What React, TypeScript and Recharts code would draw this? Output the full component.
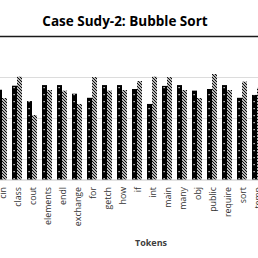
import React from 'react';
import { BarChart, Bar, XAxis, YAxis, CartesianGrid, ReferenceLine } from 'recharts';

// tokens along the x axis (the original chart is cropped on both sides)
const tokens = [
  'cin', 'class', 'cout', 'elements', 'endl', 'exchange', 'for', 'getch', 'how',
  'if', 'int', 'main', 'many', 'obj', 'public', 'require', 'sort', 'temp',
];

// solid (dotted black) series
const seriesDots = [
  44, 46, 38.5, 46.3, 46.3, 42.1, 40.1, 46.3, 46.3,
  44.4, 37.1, 45.9, 46.3, 43.6, 44.4, 46.3, 40.1, 41.5,
];

// hatched series
const seriesHatch = [
  40, 50.4, 31.7, 43.9, 43.6, 37.1, 50.2, 43.6, 43.9,
  48.3, 50.4, 50.2, 43.9, 40, 51.7, 43.9, 48, 45,
];

const yTicks = [0, 10, 20, 30, 40, 50, 60, 70];

const font = '"Open Sans", sans-serif';

const RotatedTick = (props: any) => {
  const { x, y, payload } = props;
  return (
    <text
      transform={`translate(${x + 1.5},${y + 3}) rotate(-90)`}
      textAnchor="end"
      dy="0.35em"
      fontSize={8.8}
      fontFamily={font}
      fill="#333"
    >
      {payload.value}
    </text>
  );
};

const App: React.FC = () => {
  const data = tokens.map((t, i) => ({
    token: t,
    dots: seriesDots[i],
    hatch: seriesHatch[i],
  }));

  return (
    <div style={{ position: 'fixed', left: 0, top: 0, width: 258, height: 258, overflow: 'hidden', background: '#fff' }}>
      <div
        style={{
          position: 'absolute', left: 0, top: 12, width: 250, textAlign: 'center',
          fontFamily: font, fontWeight: 700, fontSize: 13.5, lineHeight: '18px', color: '#000',
        }}
      >
        Case Sudy-2: Bubble Sort
      </div>
      <div style={{ position: 'absolute', left: -6, top: 0 }}>
        <BarChart
          width={270}
          height={258}
          data={data}
          margin={{ top: 36.5, right: 0, left: 0, bottom: 0 }}
          barGap={0}
        >
          <defs>
            <pattern id="dots" patternUnits="userSpaceOnUse" width={15} height={7}>
              <rect x={0} y={0} width={15} height={7} fill="#000" />
              <rect x={4.5} y={3} width={1.2} height={1.2} fill="#fff" />
            </pattern>
            <pattern id="hatch" patternUnits="userSpaceOnUse" width={3} height={3}>
              <rect x={0} y={0} width={3} height={3} fill="#fff" />
              <path d="M0,0 L3,3 M-1,2 L1,4 M2,-1 L4,1" stroke="#000" strokeWidth={1.1} />
            </pattern>
          </defs>
          <CartesianGrid vertical={false} stroke="#dcdcdc" />
          <YAxis hide domain={[0, 70]} ticks={yTicks} />
          <XAxis
            dataKey="token"
            interval={0}
            height={78}
            tickLine={false}
            tickSize={2}
            axisLine={{ stroke: '#d9d9d9' }}
            tick={<RotatedTick />}
          />
          <ReferenceLine y={70} stroke="#1a1a1a" strokeWidth={1.5} />
          <Bar dataKey="dots" fill="url(#dots)" barSize={5} isAnimationActive={false} />
          <Bar dataKey="hatch" fill="url(#hatch)" barSize={5} isAnimationActive={false} />
        </BarChart>
      </div>
      <div
        style={{
          position: 'absolute', left: 121, top: 236, width: 60, textAlign: 'center',
          fontFamily: font, fontWeight: 700, fontSize: 9, lineHeight: '14px', color: '#404040',
        }}
      >
        Tokens
      </div>
    </div>
  );
};

export default App;
